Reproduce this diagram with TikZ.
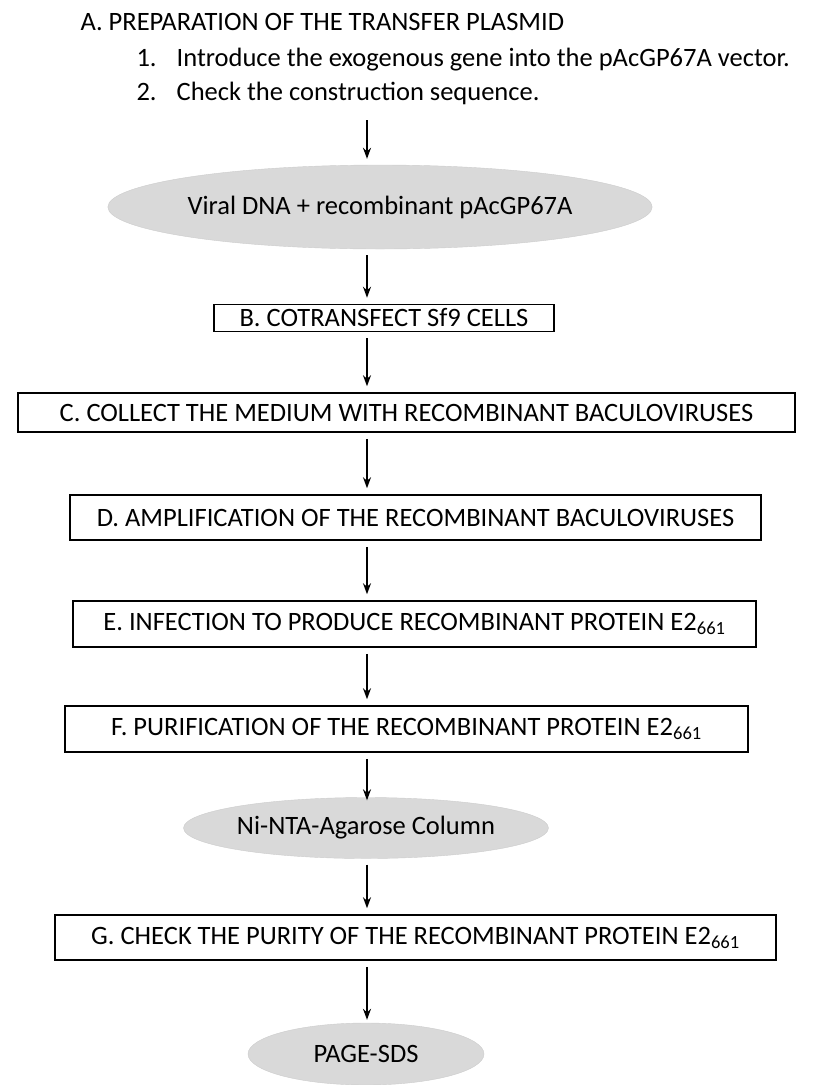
\documentclass[tikz,border=0pt]{standalone}
\usepackage{fontspec}
\setmainfont{Carlito}
\usetikzlibrary{shapes.geometric,arrows.meta}
\begin{document}
\begin{tikzpicture}[x=1pt,y=-1pt,
  every node/.style={font=\fontsize{26.5}{30}\selectfont},
  bx/.style={draw,line width=1.5pt,inner sep=0pt},
  el/.style={ellipse,fill=gray!30,draw=gray!40,inner sep=0pt},
  ar/.style={-{Stealth[length=11pt,width=8pt]},line width=1.5pt,shorten >=6pt,shorten <=6pt}]
\useasboundingbox (0,0) rectangle (819,1085);
\node[anchor=west] (A) at (77,22) {A. PREPARATION OF THE TRANSFER PLASMID};
\node[anchor=west] (a1) at (133,60) {1.\hspace{20pt}Introduce the exogenous gene into the pAcGP67A vector.};
\node[anchor=west] (a2) at (133,93) {2.\hspace{20pt}Check the construction sequence.};
\coordinate (s0) at (367,114);
\node[el,minimum width=460pt,minimum height=84pt] (v) at (380,207) {Viral DNA + recombinant pAcGP67A};
\node[bx,minimum width=340pt,minimum height=27pt] (B) at (384,318) {B. COTRANSFECT Sf9 CELLS};
\node[bx,minimum width=777pt,minimum height=39pt] (C) at (406.5,412.5) {C. COLLECT THE MEDIUM WITH RECOMBINANT BACULOVIRUSES};
\node[bx,minimum width=691pt,minimum height=45pt] (D) at (415.5,517.5) {D. AMPLIFICATION OF THE RECOMBINANT BACULOVIRUSES};
\node[bx,minimum width=683pt,minimum height=46pt] (E) at (414.5,624) {E. INFECTION TO PRODUCE RECOMBINANT PROTEIN E2\textsubscript{661}};
\node[bx,minimum width=683pt,minimum height=46pt] (F) at (406.5,729) {F. PURIFICATION OF THE RECOMBINANT PROTEIN E2\textsubscript{661}};
\node[el,minimum width=327pt,minimum height=61pt] (N) at (366,828) {Ni-NTA-Agarose Column};
\node[bx,minimum width=721pt,minimum height=45pt] (G) at (415.5,937.5) {G. CHECK THE PURITY OF THE RECOMBINANT PROTEIN E2\textsubscript{661}};
\node[el,minimum width=236pt,minimum height=62pt] (P) at (366,1054) {PAGE-SDS};
\draw[ar] (s0) -- (v.north -| s0);
\draw[ar] (v.south -| s0) -- (B.north -| s0);
\draw[ar] (B.south -| s0) -- (C.north -| s0);
\draw[ar] (C.south -| s0) -- (D.north -| s0);
\draw[ar] (D.south -| s0) -- (E.north -| s0);
\draw[ar] (E.south -| s0) -- (F.north -| s0);
\draw[ar,shorten >=-3pt] (F.south -| s0) -- (N.north -| s0);
\draw[ar] (N.south -| s0) -- (G.north -| s0);
\draw[ar,shorten >=3pt] (G.south -| s0) -- (P.north -| s0);
\end{tikzpicture}
\end{document}
